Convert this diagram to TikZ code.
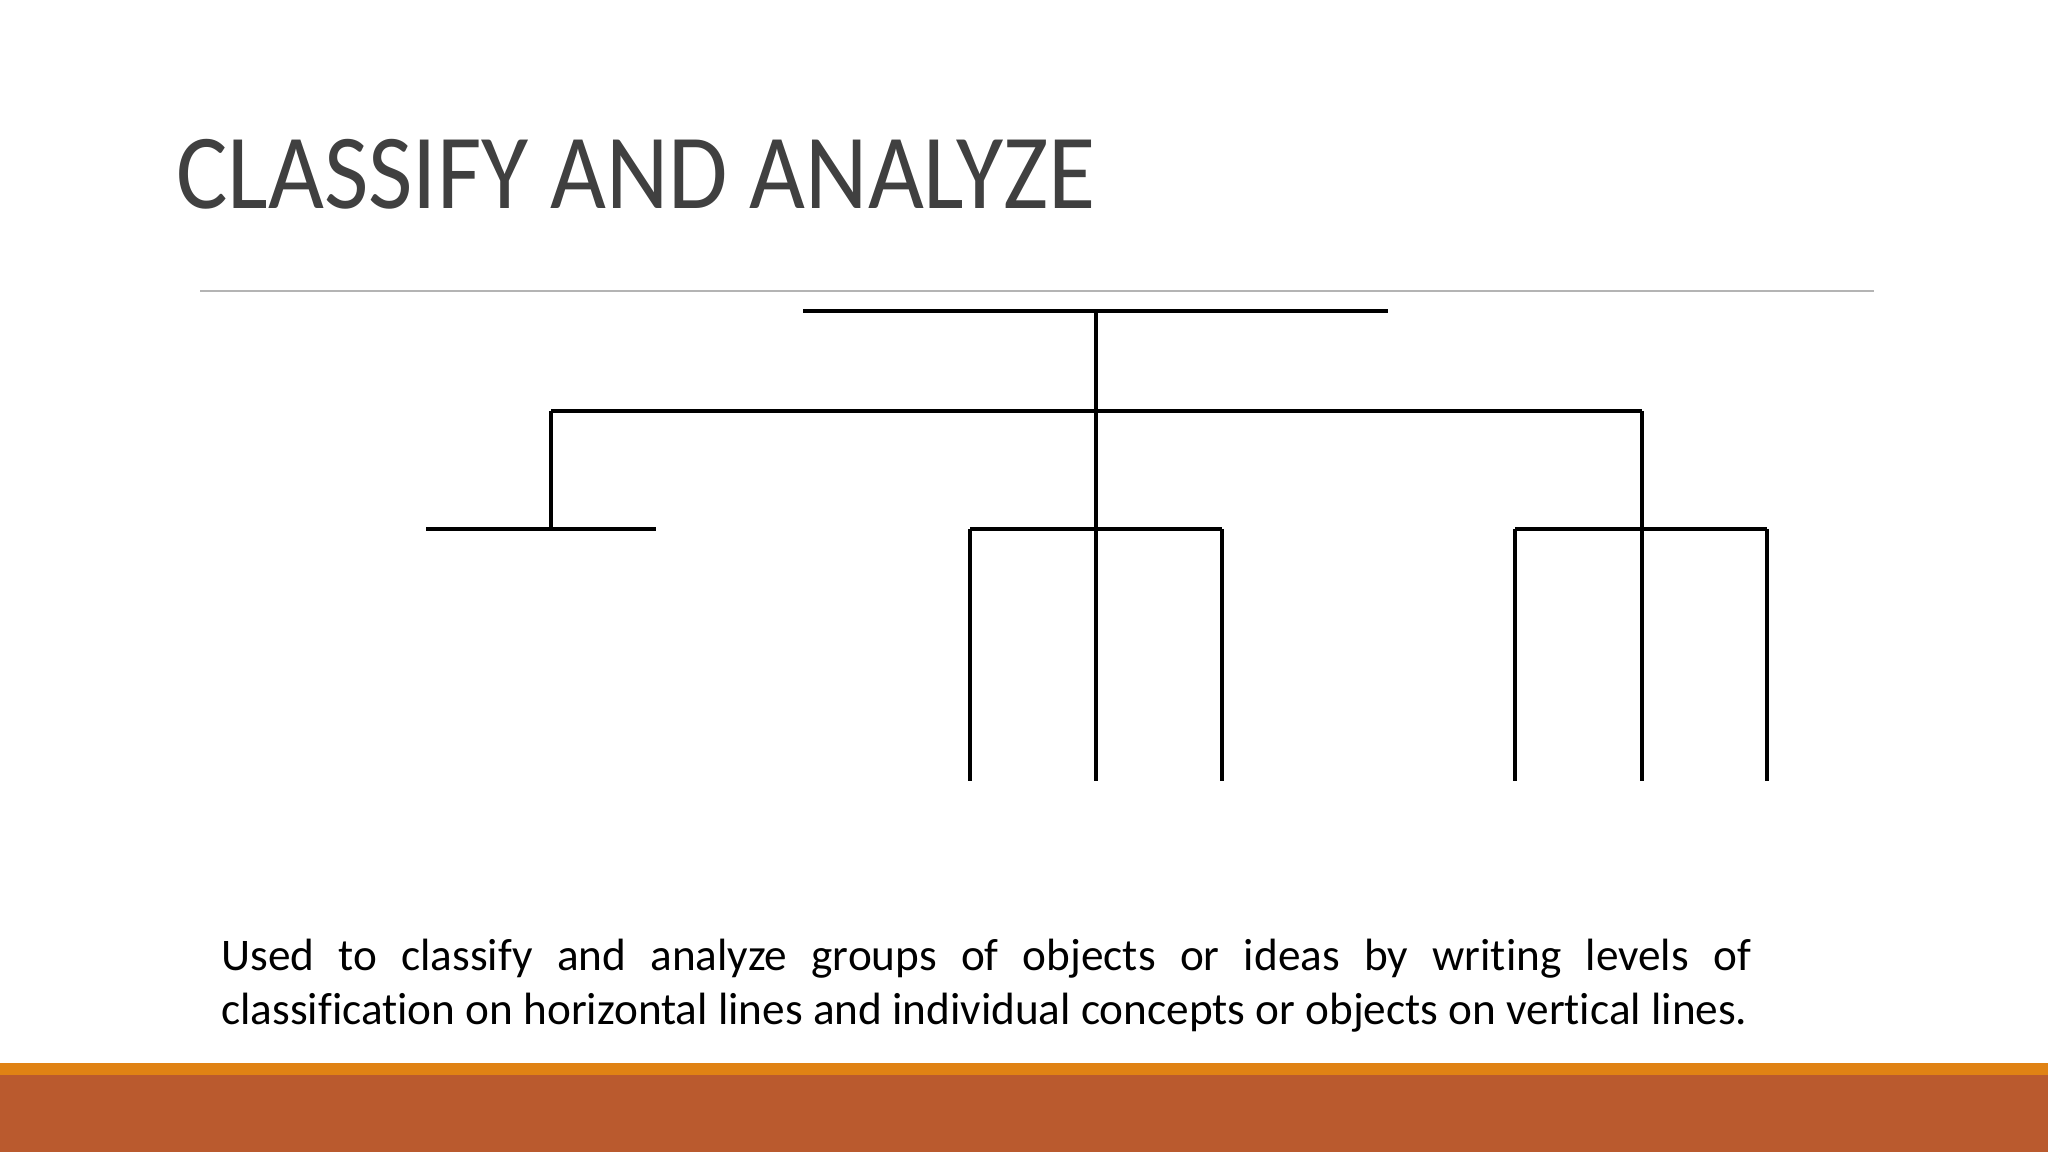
\documentclass[tikz,border=0pt]{standalone}
\usepackage{fontspec}
\setmainfont{Carlito}
\newfontfamily\titlefont[FakeStretch=0.905]{Carlito}
\newfontfamily\bodyfont[Ligatures=NoCommon]{Carlito}
\hyphenpenalty=10000
\exhyphenpenalty=10000
\definecolor{titlegray}{HTML}{404040}
\definecolor{rulegray}{HTML}{B4B4B4}
\definecolor{stripeorange}{HTML}{E08214}
\definecolor{bardark}{HTML}{BA5A2E}
\begin{document}
\begin{tikzpicture}[x=0.46875pt,y=-0.46875pt,
  treeline/.style={line width=2.2pt,black},
  sepline/.style={line width=1pt,rulegray}]
\useasboundingbox (0,0) rectangle (2048,1152);
\fill[white] (0,0) rectangle (2048,1152);
% bottom bars
\fill[bardark] (0,1074) rectangle (2048,1152);
\fill[stripeorange] (0,1063) rectangle (2048,1075);
% title
\node[anchor=base west,inner sep=0,text=titlegray,font=\titlefont\fontsize{50}{60}\selectfont] (title) at (176,209) {CLASSIFY AND ANALYZE};
% separator
\coordinate (sepL) at (200,291);
\coordinate (sepR) at (1874,291);
\draw[sepline] (sepL) -- (sepR);
% tree coordinates
\coordinate (topL) at (803,311);
\coordinate (topR) at (1388,311);
\coordinate (topM) at (1096,311);
\coordinate (midL) at (551,411);
\coordinate (midR) at (1642,411);
\coordinate (midM) at (1096,411);
\coordinate (lowLL) at (426,529);
\coordinate (lowLR) at (656,529);
\coordinate (lowLM) at (551,529);
\coordinate (cA) at (970,529);
\coordinate (cB) at (1096,529);
\coordinate (cC) at (1222,529);
\coordinate (cAe) at (970,781);
\coordinate (cBe) at (1096,781);
\coordinate (cCe) at (1222,781);
\coordinate (rA) at (1515,529);
\coordinate (rB) at (1642,529);
\coordinate (rC) at (1767,529);
\coordinate (rAe) at (1515,781);
\coordinate (rBe) at (1642,781);
\coordinate (rCe) at (1767,781);
\draw[treeline] (topL) -- (topR);
\draw[treeline] (topM) -- (cBe);
\draw[treeline] (midL) -- (midR);
\draw[treeline] (lowLM) -- (midL);
\draw[treeline] (lowLL) -- (lowLR);
\draw[treeline] (cA) -- (cC);
\draw[treeline] (cA) -- (cAe);
\draw[treeline] (cC) -- (cCe);
\draw[treeline] (midR) -- (rBe);
\draw[treeline] (rA) -- (rC);
\draw[treeline] (rA) -- (rAe);
\draw[treeline] (rC) -- (rCe);
% description
\node[anchor=north west,inner sep=0,text width=717pt,align=justify,font=\bodyfont\fontsize{21.2}{25}\selectfont] (desc) at (221,939) {Used to classify and analyze groups of objects or ideas by writing levels of\linebreak classification on horizontal lines and individual concepts or objects on vertical lines.};
\end{tikzpicture}
\end{document}
